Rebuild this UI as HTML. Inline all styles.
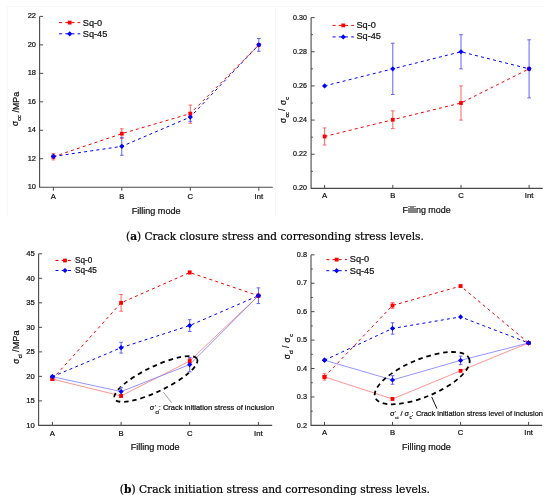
<!DOCTYPE html>
<html><head><meta charset="utf-8"><title>Figure</title><style>
html,body{margin:0;padding:0;background:#fff;}
body{width:550px;height:501px;overflow:hidden;}
svg{display:block;} text{stroke:#111;stroke-width:0.22px;}
</style></head><body>
<svg width="550" height="501" viewBox="0 0 550 501" font-family="'Liberation Sans', Arial, sans-serif">
<rect width="550" height="501" fill="#fff"/>
<path d="M7 6.5H544 M7.5 6V216 M275.5 6V216" stroke="#f7f7f7" stroke-width="1" fill="none"/>
<path d="M39.6 16.4V187.2H272.8" stroke="#4a4a4a" stroke-width="1.1" fill="none"/>
<text x="36" y="189.1" text-anchor="end" font-size="7.7" fill="#111" textLength="8.31" lengthAdjust="spacingAndGlyphs">10</text>
<path d="M39.6 158.73H43.1" stroke="#4a4a4a" stroke-width="1"/>
<text x="36" y="160.63" text-anchor="end" font-size="7.7" fill="#111" textLength="8.31" lengthAdjust="spacingAndGlyphs">12</text>
<path d="M39.6 130.27H43.1" stroke="#4a4a4a" stroke-width="1"/>
<text x="36" y="132.17" text-anchor="end" font-size="7.7" fill="#111" textLength="8.31" lengthAdjust="spacingAndGlyphs">14</text>
<path d="M39.6 101.8H43.1" stroke="#4a4a4a" stroke-width="1"/>
<text x="36" y="103.7" text-anchor="end" font-size="7.7" fill="#111" textLength="8.31" lengthAdjust="spacingAndGlyphs">16</text>
<path d="M39.6 73.33H43.1" stroke="#4a4a4a" stroke-width="1"/>
<text x="36" y="75.23" text-anchor="end" font-size="7.7" fill="#111" textLength="8.31" lengthAdjust="spacingAndGlyphs">18</text>
<path d="M39.6 44.87H43.1" stroke="#4a4a4a" stroke-width="1"/>
<text x="36" y="46.77" text-anchor="end" font-size="7.7" fill="#111" textLength="8.31" lengthAdjust="spacingAndGlyphs">20</text>
<path d="M39.6 16.4H43.1" stroke="#4a4a4a" stroke-width="1"/>
<text x="36" y="18.3" text-anchor="end" font-size="7.7" fill="#111" textLength="8.31" lengthAdjust="spacingAndGlyphs">22</text>
<path d="M53.4 187.2V190.7" stroke="#4a4a4a" stroke-width="1"/>
<text x="53.4" y="198.9" text-anchor="middle" font-size="7.7" fill="#111">A</text>
<path d="M121.8 187.2V190.7" stroke="#4a4a4a" stroke-width="1"/>
<text x="121.8" y="198.9" text-anchor="middle" font-size="7.7" fill="#111">B</text>
<path d="M190.3 187.2V190.7" stroke="#4a4a4a" stroke-width="1"/>
<text x="190.3" y="198.9" text-anchor="middle" font-size="7.7" fill="#111">C</text>
<path d="M258.8 187.2V190.7" stroke="#4a4a4a" stroke-width="1"/>
<text x="258.8" y="198.9" text-anchor="middle" font-size="7.7" fill="#111">Int</text>
<text x="131.7" y="213.6" font-size="9" fill="#111" textLength="48.8" lengthAdjust="spacingAndGlyphs">Filling mode</text>
<text transform="translate(18.3 125.9) rotate(-90)" font-size="8.3" fill="#111">&#963;</text><text transform="translate(21.3 120.7) rotate(-90)" font-size="5.4" fill="#111">cc</text><text transform="translate(18.5 112.5) rotate(-90)" font-size="8.8" fill="#111">/MPa</text>
<path d="M53.4 156.74 L121.8 133.68 L190.3 113.61 L258.8 44.87" stroke="#ff0000" stroke-width="1" stroke-dasharray="3 3.2" fill="none"/>
<path d="M53.4 156.46 L121.8 146.35 L190.3 117.03 L258.8 44.87" stroke="#0000ff" stroke-width="1" stroke-dasharray="3 3.2" fill="none"/>
<path d="M53.4 153.61V159.87 M51.6 153.61H55.2 M51.6 159.87H55.2" stroke="#ff6262" stroke-width="1" fill="none"/>
<path d="M121.8 128.84V138.52 M120 128.84H123.6 M120 138.52H123.6" stroke="#ff6262" stroke-width="1" fill="none"/>
<path d="M190.3 105.07V123.29 M188.5 105.07H192.1 M188.5 123.29H192.1" stroke="#ff6262" stroke-width="1" fill="none"/>
<path d="M53.4 155.03V157.88 M51.6 155.03H55.2 M51.6 157.88H55.2" stroke="#6262f8" stroke-width="1" fill="none"/>
<path d="M121.8 137.38V155.32 M120 137.38H123.6 M120 155.32H123.6" stroke="#6262f8" stroke-width="1" fill="none"/>
<path d="M190.3 112.76V121.3 M188.5 112.76H192.1 M188.5 121.3H192.1" stroke="#6262f8" stroke-width="1" fill="none"/>
<path d="M258.8 38.46V51.27 M257 38.46H260.6 M257 51.27H260.6" stroke="#6262f8" stroke-width="1" fill="none"/>
<rect x="51.5" y="154.84" width="3.8" height="3.8" fill="#ff0000"/>
<rect x="119.9" y="131.78" width="3.8" height="3.8" fill="#ff0000"/>
<rect x="188.4" y="111.71" width="3.8" height="3.8" fill="#ff0000"/>
<rect x="256.9" y="42.97" width="3.8" height="3.8" fill="#ff0000"/>
<path d="M53.4 153.86L56 156.46L53.4 159.06L50.8 156.46Z" fill="#0000ff"/>
<path d="M121.8 143.75L124.4 146.35L121.8 148.95L119.2 146.35Z" fill="#0000ff"/>
<path d="M190.3 114.43L192.9 117.03L190.3 119.63L187.7 117.03Z" fill="#0000ff"/>
<path d="M258.8 42.27L261.4 44.87L258.8 47.47L256.2 44.87Z" fill="#0000ff"/>
<path d="M59.1 22.6H80.3" stroke="#ff0000" stroke-width="1" stroke-dasharray="3 3.2" fill="none"/>
<rect x="67.8" y="20.7" width="3.8" height="3.8" fill="#ff0000"/>
<text x="82.8" y="25.5" font-size="9.2" fill="#111">Sq-0</text>
<path d="M59.1 33.8H80.3" stroke="#0000ff" stroke-width="1" stroke-dasharray="3 3.2" fill="none"/>
<path d="M69.7 31.2L72.3 33.8L69.7 36.4L67.1 33.8Z" fill="#0000ff"/>
<text x="82.8" y="36.7" font-size="9.2" fill="#111">Sq-45</text>
<path d="M311.1 17.6V188.4H542.8" stroke="#4a4a4a" stroke-width="1.1" fill="none"/>
<text x="306.9" y="190.4" text-anchor="end" font-size="7.7" fill="#111" textLength="13.79" lengthAdjust="spacingAndGlyphs">0.20</text>
<path d="M311.1 154.24H314.6" stroke="#4a4a4a" stroke-width="1"/>
<text x="306.9" y="156.24" text-anchor="end" font-size="7.7" fill="#111" textLength="13.79" lengthAdjust="spacingAndGlyphs">0.22</text>
<path d="M311.1 120.08H314.6" stroke="#4a4a4a" stroke-width="1"/>
<text x="306.9" y="122.08" text-anchor="end" font-size="7.7" fill="#111" textLength="13.79" lengthAdjust="spacingAndGlyphs">0.24</text>
<path d="M311.1 85.92H314.6" stroke="#4a4a4a" stroke-width="1"/>
<text x="306.9" y="87.92" text-anchor="end" font-size="7.7" fill="#111" textLength="13.79" lengthAdjust="spacingAndGlyphs">0.26</text>
<path d="M311.1 51.76H314.6" stroke="#4a4a4a" stroke-width="1"/>
<text x="306.9" y="53.76" text-anchor="end" font-size="7.7" fill="#111" textLength="13.79" lengthAdjust="spacingAndGlyphs">0.28</text>
<path d="M311.1 17.6H314.6" stroke="#4a4a4a" stroke-width="1"/>
<text x="306.9" y="19.6" text-anchor="end" font-size="7.7" fill="#111" textLength="13.79" lengthAdjust="spacingAndGlyphs">0.30</text>
<path d="M311.1 171.32H312.9" stroke="#4a4a4a" stroke-width="1"/>
<path d="M311.1 137.16H312.9" stroke="#4a4a4a" stroke-width="1"/>
<path d="M311.1 103H312.9" stroke="#4a4a4a" stroke-width="1"/>
<path d="M311.1 68.84H312.9" stroke="#4a4a4a" stroke-width="1"/>
<path d="M311.1 34.68H312.9" stroke="#4a4a4a" stroke-width="1"/>
<path d="M324.6 188.4V184.9" stroke="#4a4a4a" stroke-width="1"/>
<text x="324.6" y="198.2" text-anchor="middle" font-size="7.7" fill="#111">A</text>
<path d="M392.8 188.4V184.9" stroke="#4a4a4a" stroke-width="1"/>
<text x="392.8" y="198.2" text-anchor="middle" font-size="7.7" fill="#111">B</text>
<path d="M461 188.4V184.9" stroke="#4a4a4a" stroke-width="1"/>
<text x="461" y="198.2" text-anchor="middle" font-size="7.7" fill="#111">C</text>
<path d="M529.1 188.4V184.9" stroke="#4a4a4a" stroke-width="1"/>
<text x="529.1" y="198.2" text-anchor="middle" font-size="7.7" fill="#111">Int</text>
<text x="402.6" y="212.9" font-size="9" fill="#111" textLength="48.1" lengthAdjust="spacingAndGlyphs">Filling mode</text>
<text transform="translate(285.5 122.9) rotate(-90)" font-size="8.3" fill="#111">&#963;</text><text transform="translate(288.7 117.6) rotate(-90)" font-size="5.4" fill="#111">cc</text><text transform="translate(285.3 110.9) rotate(-90)" font-size="8.3" fill="#111">/</text><text transform="translate(285.5 105) rotate(-90)" font-size="8.3" fill="#111">&#963;</text><text transform="translate(288.7 99.7) rotate(-90)" font-size="5.4" fill="#111">c</text>
<path d="M324.6 136.48 L392.8 119.74 L461 103 L529.1 68.84" stroke="#ff0000" stroke-width="1" stroke-dasharray="3 3.2" fill="none"/>
<path d="M324.6 85.92 L392.8 68.84 L461 51.76 L529.1 68.84" stroke="#0000ff" stroke-width="1" stroke-dasharray="3 3.2" fill="none"/>
<path d="M324.6 127.94V145.02 M322.8 127.94H326.4 M322.8 145.02H326.4" stroke="#ff6262" stroke-width="1" fill="none"/>
<path d="M392.8 110.86V128.62 M391 110.86H394.6 M391 128.62H394.6" stroke="#ff6262" stroke-width="1" fill="none"/>
<path d="M461 85.92V120.08 M459.2 85.92H462.8 M459.2 120.08H462.8" stroke="#ff6262" stroke-width="1" fill="none"/>
<path d="M392.8 43.22V94.46 M391 43.22H394.6 M391 94.46H394.6" stroke="#6262f8" stroke-width="1" fill="none"/>
<path d="M461 34.68V68.84 M459.2 34.68H462.8 M459.2 68.84H462.8" stroke="#6262f8" stroke-width="1" fill="none"/>
<path d="M529.1 39.8V97.88 M527.3 39.8H530.9 M527.3 97.88H530.9" stroke="#6262f8" stroke-width="1" fill="none"/>
<rect x="322.7" y="134.58" width="3.8" height="3.8" fill="#ff0000"/>
<rect x="390.9" y="117.84" width="3.8" height="3.8" fill="#ff0000"/>
<rect x="459.1" y="101.1" width="3.8" height="3.8" fill="#ff0000"/>
<rect x="527.2" y="66.94" width="3.8" height="3.8" fill="#ff0000"/>
<path d="M324.6 83.32L327.2 85.92L324.6 88.52L322 85.92Z" fill="#0000ff"/>
<path d="M392.8 66.24L395.4 68.84L392.8 71.44L390.2 68.84Z" fill="#0000ff"/>
<path d="M461 49.16L463.6 51.76L461 54.36L458.4 51.76Z" fill="#0000ff"/>
<path d="M529.1 66.24L531.7 68.84L529.1 71.44L526.5 68.84Z" fill="#0000ff"/>
<path d="M332.6 25.4H353.9" stroke="#ff0000" stroke-width="1" stroke-dasharray="3 3.2" fill="none"/>
<rect x="341.35" y="23.5" width="3.8" height="3.8" fill="#ff0000"/>
<text x="356.4" y="28.3" font-size="9.2" fill="#111">Sq-0</text>
<path d="M332.6 36.9H353.9" stroke="#0000ff" stroke-width="1" stroke-dasharray="3 3.2" fill="none"/>
<path d="M343.25 34.3L345.85 36.9L343.25 39.5L340.65 36.9Z" fill="#0000ff"/>
<text x="356.4" y="39.3" font-size="9.2" fill="#111">Sq-45</text>
<path d="M38.6 253.8V425.4H272.2" stroke="#4a4a4a" stroke-width="1.1" fill="none"/>
<text x="34.9" y="427.6" text-anchor="end" font-size="7.7" fill="#111" textLength="8.56" lengthAdjust="spacingAndGlyphs">10</text>
<path d="M38.6 400.89H42.1" stroke="#4a4a4a" stroke-width="1"/>
<text x="34.9" y="403.09" text-anchor="end" font-size="7.7" fill="#111" textLength="8.56" lengthAdjust="spacingAndGlyphs">15</text>
<path d="M38.6 376.37H42.1" stroke="#4a4a4a" stroke-width="1"/>
<text x="34.9" y="378.57" text-anchor="end" font-size="7.7" fill="#111" textLength="8.56" lengthAdjust="spacingAndGlyphs">20</text>
<path d="M38.6 351.86H42.1" stroke="#4a4a4a" stroke-width="1"/>
<text x="34.9" y="354.06" text-anchor="end" font-size="7.7" fill="#111" textLength="8.56" lengthAdjust="spacingAndGlyphs">25</text>
<path d="M38.6 327.34H42.1" stroke="#4a4a4a" stroke-width="1"/>
<text x="34.9" y="329.54" text-anchor="end" font-size="7.7" fill="#111" textLength="8.56" lengthAdjust="spacingAndGlyphs">30</text>
<path d="M38.6 302.83H42.1" stroke="#4a4a4a" stroke-width="1"/>
<text x="34.9" y="305.03" text-anchor="end" font-size="7.7" fill="#111" textLength="8.56" lengthAdjust="spacingAndGlyphs">35</text>
<path d="M38.6 278.31H42.1" stroke="#4a4a4a" stroke-width="1"/>
<text x="34.9" y="280.51" text-anchor="end" font-size="7.7" fill="#111" textLength="8.56" lengthAdjust="spacingAndGlyphs">40</text>
<path d="M38.6 253.8H42.1" stroke="#4a4a4a" stroke-width="1"/>
<text x="34.9" y="256" text-anchor="end" font-size="7.7" fill="#111" textLength="8.56" lengthAdjust="spacingAndGlyphs">45</text>
<path d="M52.4 425.4V421.9" stroke="#4a4a4a" stroke-width="1"/>
<text x="52.4" y="435.7" text-anchor="middle" font-size="7.7" fill="#111">A</text>
<path d="M121.1 425.4V421.9" stroke="#4a4a4a" stroke-width="1"/>
<text x="121.1" y="435.7" text-anchor="middle" font-size="7.7" fill="#111">B</text>
<path d="M189.7 425.4V421.9" stroke="#4a4a4a" stroke-width="1"/>
<text x="189.7" y="435.7" text-anchor="middle" font-size="7.7" fill="#111">C</text>
<path d="M258.4 425.4V421.9" stroke="#4a4a4a" stroke-width="1"/>
<text x="258.4" y="435.7" text-anchor="middle" font-size="7.7" fill="#111">Int</text>
<text x="130.7" y="449.8" font-size="9" fill="#111" textLength="48.8" lengthAdjust="spacingAndGlyphs">Filling mode</text>
<text transform="translate(18.6 363.7) rotate(-90)" font-size="8.3" fill="#111">&#963;</text><text transform="translate(21.6 358.3) rotate(-90)" font-size="5.4" fill="#111">ci</text><text transform="translate(18.9 351.9) rotate(-90)" font-size="9.2" fill="#111">/MPa</text>
<path d="M52.4 379.07 L121.1 395.98 L189.7 361.03 L258.4 295.72" stroke="#ff7a7a" stroke-width="0.8" fill="none"/>
<path d="M52.4 376.71 L121.1 391.57 L189.7 364.6 L258.4 295.72" stroke="#7a7aff" stroke-width="0.8" fill="none"/>
<path d="M52.4 379.07 L121.1 302.83 L189.7 272.48 L258.4 295.72" stroke="#ff0000" stroke-width="1" stroke-dasharray="3 3.2" fill="none"/>
<path d="M52.4 376.71 L121.1 347.69 L189.7 325.53 L258.4 295.72" stroke="#0000ff" stroke-width="1" stroke-dasharray="3 3.2" fill="none"/>
<ellipse cx="155.86" cy="378.96" rx="45.85" ry="12.46" transform="rotate(-25.78 155.86 378.96)" stroke="#000" stroke-width="1.8" stroke-dasharray="4.6 3.8" fill="none"/>
<path d="M163.2 391.9L171.5 402.6" stroke="#777" stroke-width="0.7"/>
<text x="149.8" y="409.7" font-size="7.3" fill="#111">&#963;</text><text x="154.9" y="409.0" font-size="4.6" fill="#111">'</text><text x="155.4" y="413.6" font-size="4.5" fill="#111">ci</text><text x="158.7" y="409.7" font-size="7.3" fill="#111">:</text><text x="162.9" y="409.7" font-size="7.4" fill="#111" textLength="111.2" lengthAdjust="spacingAndGlyphs">Crack initiation stress of inclusion</text>
<path d="M121.1 394.51V397.45 M119.3 394.51H122.9 M119.3 397.45H122.9" stroke="#ff6262" stroke-width="1" fill="none"/>
<path d="M189.7 358.57V363.48 M187.9 358.57H191.5 M187.9 363.48H191.5" stroke="#ff6262" stroke-width="1" fill="none"/>
<path d="M121.1 387.65V395.49 M119.3 387.65H122.9 M119.3 395.49H122.9" stroke="#6262f8" stroke-width="1" fill="none"/>
<path d="M189.7 357.4V371.81 M187.9 357.4H191.5 M187.9 371.81H191.5" stroke="#6262f8" stroke-width="1" fill="none"/>
<path d="M52.4 378.09V380.05 M50.6 378.09H54.2 M50.6 380.05H54.2" stroke="#ff6262" stroke-width="1" fill="none"/>
<path d="M121.1 294.49V311.16 M119.3 294.49H122.9 M119.3 311.16H122.9" stroke="#ff6262" stroke-width="1" fill="none"/>
<path d="M189.7 271.01V273.95 M187.9 271.01H191.5 M187.9 273.95H191.5" stroke="#ff6262" stroke-width="1" fill="none"/>
<path d="M52.4 375.73V377.7 M50.6 375.73H54.2 M50.6 377.7H54.2" stroke="#6262f8" stroke-width="1" fill="none"/>
<path d="M121.1 342.3V353.08 M119.3 342.3H122.9 M119.3 353.08H122.9" stroke="#6262f8" stroke-width="1" fill="none"/>
<path d="M189.7 319.65V331.41 M187.9 319.65H191.5 M187.9 331.41H191.5" stroke="#6262f8" stroke-width="1" fill="none"/>
<path d="M258.4 287.87V303.56 M256.6 287.87H260.2 M256.6 303.56H260.2" stroke="#6262f8" stroke-width="1" fill="none"/>
<rect x="50.5" y="377.17" width="3.8" height="3.8" fill="#ff0000"/>
<rect x="119.2" y="394.08" width="3.8" height="3.8" fill="#ff0000"/>
<rect x="187.8" y="359.13" width="3.8" height="3.8" fill="#ff0000"/>
<rect x="256.5" y="293.82" width="3.8" height="3.8" fill="#ff0000"/>
<path d="M52.4 374.11L55 376.71L52.4 379.31L49.8 376.71Z" fill="#0000ff"/>
<path d="M121.1 388.97L123.7 391.57L121.1 394.17L118.5 391.57Z" fill="#0000ff"/>
<path d="M189.7 362L192.3 364.6L189.7 367.2L187.1 364.6Z" fill="#0000ff"/>
<path d="M258.4 293.12L261 295.72L258.4 298.32L255.8 295.72Z" fill="#0000ff"/>
<rect x="50.5" y="377.17" width="3.8" height="3.8" fill="#ff0000"/>
<rect x="119.2" y="300.93" width="3.8" height="3.8" fill="#ff0000"/>
<rect x="187.8" y="270.58" width="3.8" height="3.8" fill="#ff0000"/>
<rect x="256.5" y="293.82" width="3.8" height="3.8" fill="#ff0000"/>
<path d="M52.4 374.11L55 376.71L52.4 379.31L49.8 376.71Z" fill="#0000ff"/>
<path d="M121.1 345.09L123.7 347.69L121.1 350.29L118.5 347.69Z" fill="#0000ff"/>
<path d="M189.7 322.93L192.3 325.53L189.7 328.13L187.1 325.53Z" fill="#0000ff"/>
<path d="M258.4 293.12L261 295.72L258.4 298.32L255.8 295.72Z" fill="#0000ff"/>
<path d="M55.5 260.5H74.5" stroke="#ff0000" stroke-width="1" stroke-dasharray="3 3.2" fill="none"/>
<rect x="63.1" y="258.6" width="3.8" height="3.8" fill="#ff0000"/>
<text x="75" y="263.3" font-size="8.2" fill="#111">Sq-0</text>
<path d="M55.5 270.5H74.5" stroke="#0000ff" stroke-width="1" stroke-dasharray="3 3.2" fill="none"/>
<path d="M65 267.9L67.6 270.5L65 273.1L62.4 270.5Z" fill="#0000ff"/>
<text x="75" y="273.3" font-size="8.2" fill="#111">Sq-45</text>
<path d="M311 254.8V425.4H542.2" stroke="#4a4a4a" stroke-width="1.1" fill="none"/>
<text x="307" y="427.6" text-anchor="end" font-size="7.7" fill="#111" textLength="10.17" lengthAdjust="spacingAndGlyphs">0.2</text>
<path d="M311 396.97H314.5" stroke="#4a4a4a" stroke-width="1"/>
<text x="307" y="399.17" text-anchor="end" font-size="7.7" fill="#111" textLength="10.17" lengthAdjust="spacingAndGlyphs">0.3</text>
<path d="M311 368.53H314.5" stroke="#4a4a4a" stroke-width="1"/>
<text x="307" y="370.73" text-anchor="end" font-size="7.7" fill="#111" textLength="10.17" lengthAdjust="spacingAndGlyphs">0.4</text>
<path d="M311 340.1H314.5" stroke="#4a4a4a" stroke-width="1"/>
<text x="307" y="342.3" text-anchor="end" font-size="7.7" fill="#111" textLength="10.17" lengthAdjust="spacingAndGlyphs">0.5</text>
<path d="M311 311.67H314.5" stroke="#4a4a4a" stroke-width="1"/>
<text x="307" y="313.87" text-anchor="end" font-size="7.7" fill="#111" textLength="10.17" lengthAdjust="spacingAndGlyphs">0.6</text>
<path d="M311 283.23H314.5" stroke="#4a4a4a" stroke-width="1"/>
<text x="307" y="285.43" text-anchor="end" font-size="7.7" fill="#111" textLength="10.17" lengthAdjust="spacingAndGlyphs">0.7</text>
<path d="M311 254.8H314.5" stroke="#4a4a4a" stroke-width="1"/>
<text x="307" y="257" text-anchor="end" font-size="7.7" fill="#111" textLength="10.17" lengthAdjust="spacingAndGlyphs">0.8</text>
<path d="M311 411.18H312.8" stroke="#4a4a4a" stroke-width="1"/>
<path d="M311 382.75H312.8" stroke="#4a4a4a" stroke-width="1"/>
<path d="M311 354.32H312.8" stroke="#4a4a4a" stroke-width="1"/>
<path d="M311 325.88H312.8" stroke="#4a4a4a" stroke-width="1"/>
<path d="M311 297.45H312.8" stroke="#4a4a4a" stroke-width="1"/>
<path d="M311 269.02H312.8" stroke="#4a4a4a" stroke-width="1"/>
<path d="M324.5 425.4V421.9" stroke="#4a4a4a" stroke-width="1"/>
<text x="324.5" y="435.1" text-anchor="middle" font-size="7.7" fill="#111">A</text>
<path d="M392.5 425.4V421.9" stroke="#4a4a4a" stroke-width="1"/>
<text x="392.5" y="435.1" text-anchor="middle" font-size="7.7" fill="#111">B</text>
<path d="M460.6 425.4V421.9" stroke="#4a4a4a" stroke-width="1"/>
<text x="460.6" y="435.1" text-anchor="middle" font-size="7.7" fill="#111">C</text>
<path d="M528.6 425.4V421.9" stroke="#4a4a4a" stroke-width="1"/>
<text x="528.6" y="435.1" text-anchor="middle" font-size="7.7" fill="#111">Int</text>
<text x="402.1" y="449.8" font-size="9" fill="#111" textLength="48.7" lengthAdjust="spacingAndGlyphs">Filling mode</text>
<text transform="translate(289.6 359.3) rotate(-90)" font-size="8.3" fill="#111">&#963;</text><text transform="translate(292.8 354.1) rotate(-90)" font-size="5.4" fill="#111">ci</text><text transform="translate(289.4 348.1) rotate(-90)" font-size="8.3" fill="#111">/</text><text transform="translate(289.6 342.4) rotate(-90)" font-size="8.3" fill="#111">&#963;</text><text transform="translate(292.9 336.8) rotate(-90)" font-size="5.4" fill="#111">c</text>
<path d="M324.5 376.89 L392.5 398.96 L460.6 370.81 L528.6 342.94" stroke="#ff7a7a" stroke-width="0.8" fill="none"/>
<path d="M324.5 360.2 L392.5 379.99 L460.6 360.4 L528.6 342.94" stroke="#7a7aff" stroke-width="0.8" fill="none"/>
<path d="M324.5 376.89 L392.5 305.5 L460.6 286.08 L528.6 342.94" stroke="#ff0000" stroke-width="1" stroke-dasharray="3 3.2" fill="none"/>
<path d="M324.5 360.2 L392.5 328.44 L460.6 316.9 L528.6 342.94" stroke="#0000ff" stroke-width="1" stroke-dasharray="3 3.2" fill="none"/>
<ellipse cx="422.18" cy="378.16" rx="50.86" ry="18.81" transform="rotate(-22.61 422.18 378.16)" stroke="#000" stroke-width="1.8" stroke-dasharray="4.6 3.8" fill="none"/>
<path d="M431.7 396.9L436.9 408.6" stroke="#111" stroke-width="1.0"/>
<text x="390.0" y="416.2" font-size="7.3" fill="#111">&#963;</text><text x="394.8" y="414.6" font-size="4.6" fill="#111">'</text><text x="395.2" y="419.0" font-size="4.4" fill="#111">ci</text><text x="400.6" y="416.2" font-size="7.3" fill="#111">/</text><text x="404.6" y="416.2" font-size="7.3" fill="#111">&#963;</text><text x="409.4" y="418.9" font-size="4.5" fill="#111">c</text><text x="411.6" y="416.2" font-size="7.3" fill="#111">:</text><text x="415.9" y="416.2" font-size="7.4" fill="#111" textLength="127.1" lengthAdjust="spacingAndGlyphs">Crack initiation stress level of inclusion</text>
<path d="M392.5 375.73V384.26 M390.7 375.73H394.3 M390.7 384.26H394.3" stroke="#6262f8" stroke-width="1" fill="none"/>
<path d="M460.6 356.14V364.67 M458.8 356.14H462.4 M458.8 364.67H462.4" stroke="#6262f8" stroke-width="1" fill="none"/>
<path d="M324.5 373.77V380.02 M322.7 373.77H326.3 M322.7 380.02H326.3" stroke="#ff6262" stroke-width="1" fill="none"/>
<path d="M392.5 302.65V308.34 M390.7 302.65H394.3 M390.7 308.34H394.3" stroke="#ff6262" stroke-width="1" fill="none"/>
<path d="M460.6 284.66V287.5 M458.8 284.66H462.4 M458.8 287.5H462.4" stroke="#ff6262" stroke-width="1" fill="none"/>
<path d="M392.5 322.76V334.13 M390.7 322.76H394.3 M390.7 334.13H394.3" stroke="#6262f8" stroke-width="1" fill="none"/>
<path d="M528.6 341.52V344.37 M526.8 341.52H530.4 M526.8 344.37H530.4" stroke="#6262f8" stroke-width="1" fill="none"/>
<rect x="322.6" y="374.99" width="3.8" height="3.8" fill="#ff0000"/>
<rect x="390.6" y="397.06" width="3.8" height="3.8" fill="#ff0000"/>
<rect x="458.7" y="368.91" width="3.8" height="3.8" fill="#ff0000"/>
<rect x="526.7" y="341.04" width="3.8" height="3.8" fill="#ff0000"/>
<path d="M324.5 357.6L327.1 360.2L324.5 362.8L321.9 360.2Z" fill="#0000ff"/>
<path d="M392.5 377.39L395.1 379.99L392.5 382.59L389.9 379.99Z" fill="#0000ff"/>
<path d="M460.6 357.8L463.2 360.4L460.6 363L458 360.4Z" fill="#0000ff"/>
<path d="M528.6 340.34L531.2 342.94L528.6 345.54L526 342.94Z" fill="#0000ff"/>
<rect x="322.6" y="374.99" width="3.8" height="3.8" fill="#ff0000"/>
<rect x="390.6" y="303.6" width="3.8" height="3.8" fill="#ff0000"/>
<rect x="458.7" y="284.18" width="3.8" height="3.8" fill="#ff0000"/>
<rect x="526.7" y="341.04" width="3.8" height="3.8" fill="#ff0000"/>
<path d="M324.5 357.6L327.1 360.2L324.5 362.8L321.9 360.2Z" fill="#0000ff"/>
<path d="M392.5 325.84L395.1 328.44L392.5 331.04L389.9 328.44Z" fill="#0000ff"/>
<path d="M460.6 314.3L463.2 316.9L460.6 319.5L458 316.9Z" fill="#0000ff"/>
<path d="M528.6 340.34L531.2 342.94L528.6 345.54L526 342.94Z" fill="#0000ff"/>
<path d="M326.3 259.6H347" stroke="#ff0000" stroke-width="1" stroke-dasharray="3 3.2" fill="none"/>
<rect x="334.75" y="257.7" width="3.8" height="3.8" fill="#ff0000"/>
<text x="349.8" y="262.3" font-size="9.2" fill="#111">Sq-0</text>
<path d="M326.3 270.7H347" stroke="#0000ff" stroke-width="1" stroke-dasharray="3 3.2" fill="none"/>
<path d="M336.65 268.1L339.25 270.7L336.65 273.3L334.05 270.7Z" fill="#0000ff"/>
<text x="349.8" y="273.6" font-size="9.2" fill="#111">Sq-45</text>
<text x="126" y="239.7" font-family="'DejaVu Serif', 'Liberation Serif', serif" font-size="10.6" fill="#000" stroke="#000" stroke-width="0.22" textLength="297.8" lengthAdjust="spacingAndGlyphs">(<tspan font-weight="bold">a</tspan>) Crack closure stress and corresonding stress levels.</text>
<text x="119.8" y="492.9" font-family="'DejaVu Serif', 'Liberation Serif', serif" font-size="10.6" fill="#000" stroke="#000" stroke-width="0.22" textLength="310.2" lengthAdjust="spacingAndGlyphs">(<tspan font-weight="bold">b</tspan>) Crack initiation stress and corresonding stress levels.</text>
</svg>
</body></html>
